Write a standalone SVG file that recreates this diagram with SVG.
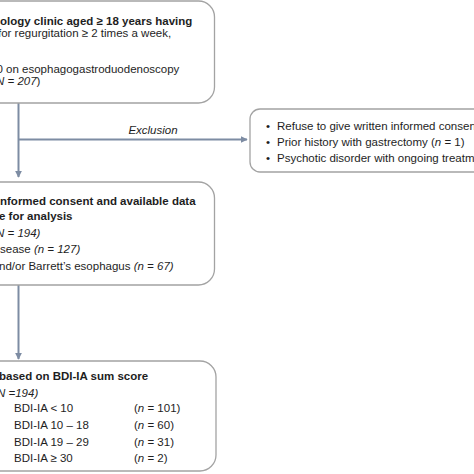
<svg xmlns="http://www.w3.org/2000/svg" width="474" height="474" viewBox="0 0 474 474">
<style>
.box{fill:#ffffff;stroke:#a3a3a3;stroke-width:1.3}
.t{font-family:"Liberation Sans",Arial,sans-serif;font-size:11.5px;fill:#1e1e1e}
.b{font-weight:bold}
.i{font-style:italic}
.c{stroke:#7d8ca3;stroke-width:2;fill:none}
</style>
<defs>
<marker id="ah" viewBox="0 0 10 10" refX="9" refY="5" markerWidth="3.5" markerHeight="3.5" orient="auto" markerUnits="strokeWidth">
<path d="M0,0 L10,5 L0,10 z" fill="#7d8ca3"/>
</marker>
</defs>
<rect width="474" height="474" fill="#ffffff"/>
<g id="connectors">
<line class="c" x1="18.5" y1="103" x2="18.5" y2="177" marker-end="url(#ah)"/>
<line class="c" x1="18.5" y1="139.5" x2="247" y2="139.5" marker-end="url(#ah)"/>
<line class="c" x1="18.5" y1="285" x2="18.5" y2="359" marker-end="url(#ah)"/>
<text class="t i" x="153" y="134" text-anchor="middle" font-size="10.5">Exclusion</text>
</g>
<g id="node1">
<rect class="box" x="-20" y="1" width="234.5" height="102" rx="16"/>
<text class="t b" x="0" y="25">ology clinic aged ≥ 18 years having</text>
<text class="t" x="-2" y="37">for regurgitation ≥ 2 times a week,</text>
<text class="t" x="-3.5" y="72.5">0 on esophagogastroduodenoscopy</text>
<text class="t" x="-4" y="85"><tspan class="i">N = 207</tspan>)</text>
</g>
<g id="node-exclusion">
<rect class="box" x="250" y="109" width="250" height="63" rx="10"/>
<text class="t" x="266" y="130">•</text>
<text class="t" x="277" y="130">Refuse to give written informed consent</text>
<text class="t" x="266" y="146">•</text>
<text class="t" x="277" y="146">Prior history with gastrectomy (<tspan class="i">n</tspan> = 1)</text>
<text class="t" x="266" y="162">•</text>
<text class="t" x="277" y="162">Psychotic disorder with ongoing treatment</text>
</g>
<g id="node2">
<rect class="box" x="-20" y="182" width="234.5" height="103" rx="16"/>
<text class="t b" x="0" y="205">nformed consent and available data</text>
<text class="t b" x="-1" y="219.5">e for analysis</text>
<text class="t i" x="-4" y="237">N = 194)</text>
<text class="t" x="0" y="253">sease <tspan class="i">(n = 127)</tspan></text>
<text class="t" x="-1" y="270">nd/or Barrett’s esophagus <tspan class="i">(n = 67)</tspan></text>
</g>
<g id="node3">
<rect class="box" x="-20" y="361" width="236" height="110" rx="16"/>
<text class="t b" x="-1" y="380">based on BDI-IA sum score</text>
<text class="t i" x="-3" y="396.5">N =194)</text>
<text class="t" x="14" y="412">BDI-IA &lt; 10</text>
<text class="t" x="134" y="412">(<tspan class="i">n</tspan> = 101)</text>
<text class="t" x="14" y="428.5">BDI-IA 10 – 18</text>
<text class="t" x="134" y="428.5">(<tspan class="i">n</tspan> = 60)</text>
<text class="t" x="14" y="445.5">BDI-IA 19 – 29</text>
<text class="t" x="134" y="445.5">(<tspan class="i">n</tspan> = 31)</text>
<text class="t" x="14" y="462">BDI-IA ≥ 30</text>
<text class="t" x="134" y="462">(<tspan class="i">n</tspan> = 2)</text>
</g>
</svg>
